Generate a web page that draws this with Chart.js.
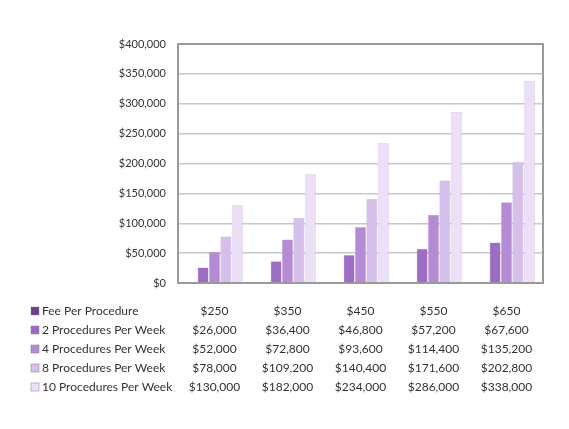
<!DOCTYPE html>
<html>
<head>
    <title>Procedure Revenue</title>
    <script src="https://cdn.jsdelivr.net/npm/chart.js"></script>
    <style>
        body { margin: 0; background: #fff; }
        .chart-container { width: 569px; height: 429px; }
    </style>
</head>
<body>
    <div class="chart-container">
        <canvas id="revChart" width="569" height="429"></canvas>
    </div>

    <script>
        // categories = fee per procedure
        const categories = ['$250', '$350', '$450', '$550', '$650'];
        const seriesNames = [
            'Fee Per Procedure',
            '2 Procedures Per Week',
            '4 Procedures Per Week',
            '8 Procedures Per Week',
            '10 Procedures Per Week'
        ];
        const feeData = [250, 350, 450, 550, 650];
        const week2Data = [26000, 36400, 46800, 57200, 67600];
        const week4Data = [52000, 72800, 93600, 114400, 135200];
        const week8Data = [78000, 109200, 140400, 171600, 202800];
        const week10Data = [130000, 182000, 234000, 286000, 338000];
        const colors = ['#6e3f8c', '#9d6cc4', '#b68bd6', '#d5bfeb', '#ebe0f6'];

        const allData = [feeData, week2Data, week4Data, week8Data, week10Data];
        const fmt = v => '$' + v.toLocaleString('en-US');

        // bars get a little side shading like the original
        function shaded(ctx, base) {
            const area = ctx.chart.chartArea;
            const el = ctx.element;
            if (!area || !el || el.width == null) return base;
            const g = ctx.chart.ctx.createLinearGradient(el.x - el.width / 2, 0, el.x + el.width / 2, 0);
            g.addColorStop(0, base);
            g.addColorStop(0.7, base);
            g.addColorStop(1, 'rgba(120,90,150,0.9)');
            return g;
        }

        const frameAndTable = {
            id: 'frameAndTable',
            afterDatasetsDraw(chart) {
                const c = chart.ctx, a = chart.chartArea;
                c.save();
                c.strokeStyle = '#9a9a9a';
                c.lineWidth = 2;
                c.strokeRect(a.left, a.top, a.right - a.left, a.bottom - a.top);
                c.restore();
            },
            afterDraw(chart) {
                const c = chart.ctx;
                const x = chart.scales.x;
                const rowY = [311, 330, 349, 368, 387];
                c.save();
                c.font = '12px Lato, "DejaVu Sans", sans-serif';
                c.fillStyle = '#333';
                c.textBaseline = 'middle';
                seriesNames.forEach((name, r) => {
                    c.fillStyle = colors[r];
                    c.fillRect(31, rowY[r] - 4, 8, 8);
                    c.strokeStyle = '#8a7a96';
                    c.lineWidth = 0.5;
                    c.strokeRect(31, rowY[r] - 4, 8, 8);
                    c.fillStyle = '#333';
                    c.textAlign = 'left';
                    c.fillText(name, 42, rowY[r]);
                    c.textAlign = 'center';
                    allData[r].forEach((v, i) => {
                        c.fillText(fmt(v), x.getPixelForValue(i), rowY[r]);
                    });
                });
                c.restore();
            }
        };

        const ctx = document.getElementById('revChart').getContext('2d');
        const chart = new Chart(ctx, {
            type: 'bar',
            data: {
                labels: categories,
                datasets: allData.map((d, i) => ({
                    label: seriesNames[i],
                    data: d,
                    backgroundColor: c => shaded(c, colors[i]),
                    borderColor: 'rgba(140,110,170,0.6)',
                    borderWidth: 0.5,
                    categoryPercentage: 0.78,
                    barPercentage: 0.96
                }))
            },
            options: {
                responsive: false,
                animation: false,
                layout: { padding: { top: 44, right: 26, bottom: 146, left: 0 } },
                plugins: {
                    legend: { display: false },
                    tooltip: { enabled: false }
                },
                scales: {
                    x: {
                        ticks: { display: false },
                        grid: { display: false, drawTicks: false },
                        border: { display: false }
                    },
                    y: {
                        min: 0,
                        max: 400000,
                        afterFit: s => { s.width = 178; },
                        ticks: {
                            stepSize: 50000,
                            padding: 12,
                            color: '#333',
                            font: { family: 'Lato, "DejaVu Sans", sans-serif', size: 11 },
                            callback: v => fmt(v)
                        },
                        grid: { color: '#c8c8c8', lineWidth: 1.5, drawTicks: false },
                        border: { display: false }
                    }
                }
            },
            plugins: [frameAndTable]
        });
    </script>
</body>
</html>
